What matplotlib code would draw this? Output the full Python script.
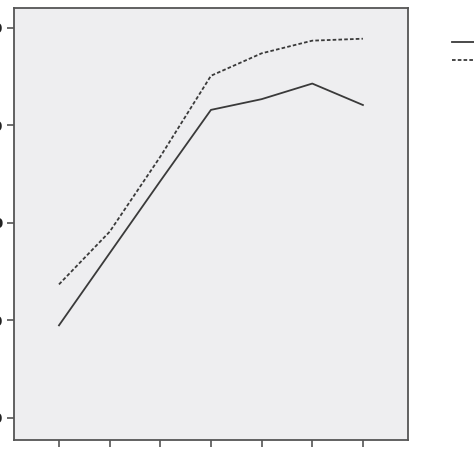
import numpy as np
import matplotlib.pyplot as plt

x = [1, 2, 3, 4, 5, 6, 7]
solid_vals = [19.5, 26.9, 34.3, 41.6, 42.7, 44.3, 42.1]
dashed_vals = [23.7, 29.1, 36.8, 45.1, 47.4, 48.7, 48.9]
y_ticks = [10, 20, 30, 40, 50]

fig = plt.figure(figsize=(4.74, 4.55), dpi=100)
ax = fig.add_axes([14 / 474, 15 / 455, 394 / 474, 432 / 455])
ax.set_facecolor('#eeeef0')

line_col = '#3a3a3a'
ax.plot(x, solid_vals, color=line_col, lw=1.3, label='Group 1')
ax.plot(x, dashed_vals, color=line_col, lw=1.3, ls=(0, (2, 1.2)), label='Group 2')

ax.set_xlim(0.112, 7.89)
ax.set_ylim(7.74, 52.05)
ax.set_xticks(x)
ax.set_xticklabels([''] * len(x))
ax.set_yticks(y_ticks)
ax.set_yticklabels([str(v) for v in y_ticks], fontsize=10, fontweight='bold', color='#222222')

for s in ax.spines.values():
    s.set_color('#555555')
    s.set_linewidth(1.3)
ax.tick_params(direction='out', length=5, width=1.2, color='#555555', pad=3)

fig.legend(loc='upper left', bbox_to_anchor=(452 / 474, 1 - 36 / 455), frameon=False,
           handlelength=2.5, fontsize=10, labelspacing=0.25, borderaxespad=0, borderpad=0)

fig.savefig('out.png', dpi=100)
